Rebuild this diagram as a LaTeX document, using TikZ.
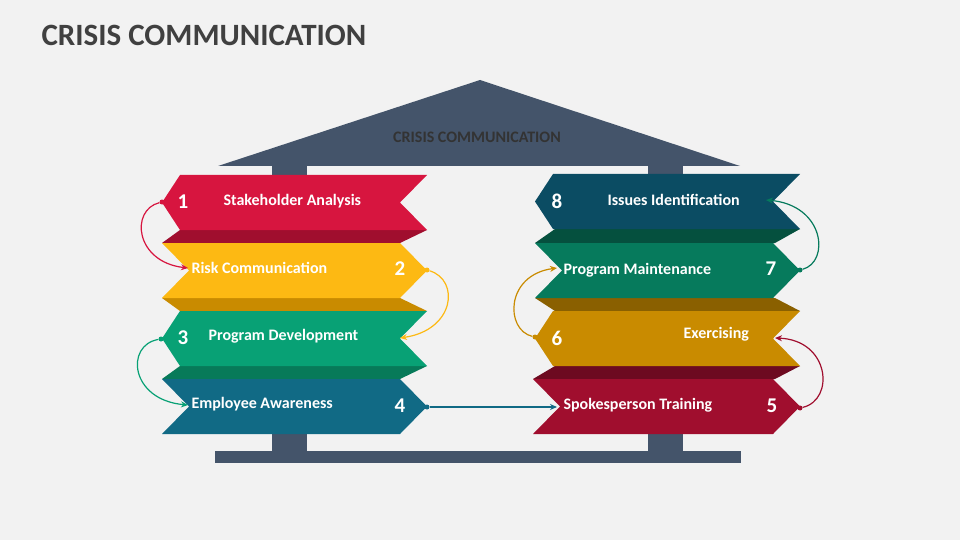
\documentclass[tikz,border=0pt]{standalone}
\usepackage{fontspec}
\setmainfont{Carlito}
\usetikzlibrary{arrows.meta}
\definecolor{bg}{HTML}{F2F2F2}
\definecolor{roof}{HTML}{44546A}
\definecolor{cR}{HTML}{D7153F}\definecolor{cRd}{HTML}{A00E2E}
\definecolor{cY}{HTML}{FDB913}\definecolor{cYd}{HTML}{C98B00}
\definecolor{cG}{HTML}{08A175}\definecolor{cGd}{HTML}{077A59}
\definecolor{cT}{HTML}{116A85}
\definecolor{cN}{HTML}{0B4C63}
\definecolor{cG2}{HTML}{067A5C}\definecolor{cG2d}{HTML}{05503E}
\definecolor{cO}{HTML}{C98B00}\definecolor{cOd}{HTML}{8A6000}
\definecolor{cM}{HTML}{A00E2E}\definecolor{cMd}{HTML}{6D0A20}
\tikzset{
 lbl/.style={text=white,font=\bfseries\fontsize{16}{18}\selectfont,anchor=west},
 num/.style={text=white,font=\bfseries\fontsize{21}{24}\selectfont},
 conn/.style={line width=1.2pt,-{Stealth[length=7pt,width=6pt]}},
 dot/.style={circle,inner sep=0pt,minimum size=5pt}
}
% left-pointing banner: #1 left tip x, #2 top y, #3 right x, #4 colour
\newcommand{\leftban}[4]{\fill[#4] (#1+18,#2) -- (#3,#2) -- (#3-27,#2+27.5) -- (#3,#2+55) -- (#1+18,#2+55) -- (#1,#2+27.5) -- cycle;}
\newcommand{\rightban}[4]{\fill[#4] (#1,#2) -- (#3-27,#2) -- (#3,#2+27.5) -- (#3-27,#2+55) -- (#1,#2+55) -- (#1+27,#2+27.5) -- cycle;}
\begin{document}
\begin{tikzpicture}[x=1pt,y=-1pt]
\fill[bg] (0,0) rectangle (960,540);
\node[anchor=west,text=black!75,font=\bfseries\fontsize{31}{34}\selectfont] (title) at (38,35) {CRISIS COMMUNICATION};
% structure
\fill[roof] (272,160) rectangle (307,455);
\fill[roof] (648,160) rectangle (683,455);
\fill[roof] (215,451) rectangle (741,463);
\fill[roof] (480,80) -- (740,166) -- (218,166) -- cycle;
\node[text=black!80,font=\bfseries\fontsize{16}{18}\selectfont] (roofl) at (477,137) {CRISIS COMMUNICATION};
% left bands
\fill[cRd] (180,230) -- (427,230) -- (400,243) -- (162,243) -- cycle;
\fill[cYd] (162,298) -- (400,298) -- (427,311) -- (180,311) -- cycle;
\fill[cGd] (180,366) -- (427,366) -- (400,379) -- (162,379) -- cycle;
% left banners
\leftban{162}{175}{427}{cR}
\rightban{162}{243}{427}{cY}
\leftban{162}{311}{427}{cG}
\rightban{162}{379}{427}{cT}
% right bands
\fill[cG2d] (555,229) -- (800,229) -- (775,243) -- (535,243) -- cycle;
\fill[cOd] (535,298) -- (775,298) -- (800,311) -- (555,311) -- cycle;
\fill[cMd] (555,366) -- (800,366) -- (775,379) -- (533,379) -- cycle;
% right banners
\leftban{535}{174}{800}{cN}
\rightban{535}{243}{800}{cG2}
\leftban{535}{311}{800}{cO}
\rightban{533}{379}{800}{cM}
% labels
\node[num] (n1) at (183,202) {1};
\node[lbl] (l1) at (220,201) {Stakeholder Analysis};
\node[num] (n2) at (400,269) {2};
\node[lbl] (l2) at (188,268) {Risk Communication};
\node[num] (n3) at (183,338) {3};
\node[lbl] (l3) at (205,336) {Program Development};
\node[num] (n4) at (400,406) {4};
\node[lbl] (l4) at (188,404) {Employee Awareness};
\node[num] (n8) at (557,201) {8};
\node[lbl] (l8) at (604,200) {Issues Identification};
\node[num] (n7) at (771,269) {7};
\node[lbl] (l7) at (560,270) {Program Maintenance};
\node[num] (n6) at (557,338) {6};
\node[lbl] (l6) at (680,334) {Exercising};
\node[num] (n5) at (772,406) {5};
\node[lbl] (l5) at (560,405) {Spokesperson Training};
% connector end points
\node[dot,fill=cR] (d1) at (162,202) {};
\node[dot,fill=cY] (d2) at (427,270) {};
\node[dot,fill=cG] (d3) at (161,339) {};
\node[dot,fill=cT] (d4) at (427,407) {};
\node[dot,fill=cM] (d5) at (800,408) {};
\node[dot,fill=cO] (d6) at (535,337) {};
\node[dot,fill=cG2] (d7) at (800,270) {};
\coordinate (a2) at (188,268);
\coordinate (a3) at (400,338);
\coordinate (a4) at (188,405);
\coordinate (a5) at (557,407);
\coordinate (a6) at (775,338);
\coordinate (a7) at (557,268);
\coordinate (a8) at (766,200);
\draw[conn,cR] (d1) .. controls (130,210) and (135,262) .. (a2);
\draw[conn,cY] (d2) .. controls (460,280) and (455,330) .. (a3);
\draw[conn,cG] (d3) .. controls (125,345) and (130,400) .. (a4);
\draw[conn,cT] (d4) -- (a5);
\draw[conn,cM] (d5) .. controls (835,400) and (830,340) .. (a6);
\draw[conn,cO] (d6) .. controls (505,330) and (505,275) .. (a7);
\draw[conn,cG2] (d7) .. controls (830,262) and (825,205) .. (a8);
\end{tikzpicture}
\end{document}
